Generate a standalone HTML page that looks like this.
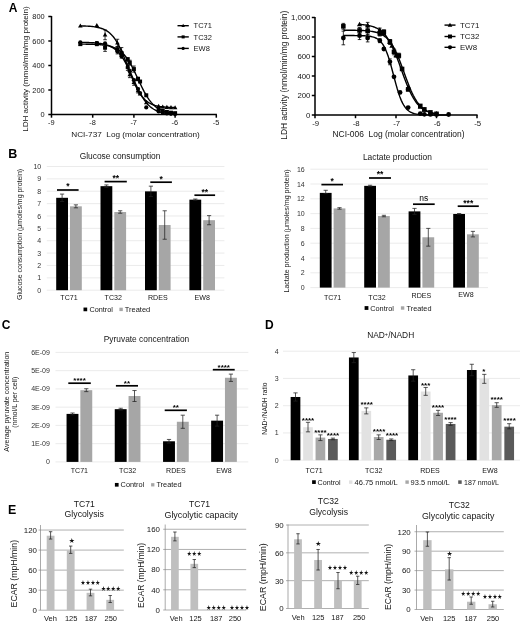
<!DOCTYPE html>
<html lang="en"><head><meta charset="utf-8"><title>Figure</title>
<style>
html,body{margin:0;padding:0;background:#fff}
svg{display:block;font-family:'Liberation Sans', 'DejaVu Sans', sans-serif;}
</style></head><body>
<svg width="520" height="624" viewBox="0 0 520 624" font-family="'Liberation Sans', 'DejaVu Sans', sans-serif">
<rect width="520" height="624" fill="#fff"/>
<text x="8.8" y="11.6" font-size="12" font-weight="bold" fill="#000">A</text>
<text x="8.3" y="158.2" font-size="12.5" font-weight="bold" fill="#000">B</text>
<text x="1.8" y="329.2" font-size="12" font-weight="bold" fill="#000">C</text>
<text x="265" y="329" font-size="12" font-weight="bold" fill="#000">D</text>
<text x="8" y="513.6" font-size="12.4" font-weight="bold" fill="#000">E</text>
<g stroke="#000" stroke-width="1.5" fill="none">
<path d="M51.5 15.9V114.5H216.9"/>
<path d="M48.3 114.5H51.5"/>
<path d="M48.3 90H51.5"/>
<path d="M48.3 65.5H51.5"/>
<path d="M48.3 41H51.5"/>
<path d="M48.3 16.5H51.5"/>
<path d="M51.5 114.5V117.7"/>
<path d="M92.7 114.5V117.7"/>
<path d="M133.9 114.5V117.7"/>
<path d="M175.1 114.5V117.7"/>
<path d="M216.3 114.5V117.7"/>
</g>
<text x="44.7" y="117.16" font-size="7.4" text-anchor="end" fill="#161616">0</text>
<text x="44.7" y="92.66" font-size="7.4" text-anchor="end" fill="#161616">200</text>
<text x="44.7" y="68.16" font-size="7.4" text-anchor="end" fill="#161616">400</text>
<text x="44.7" y="43.66" font-size="7.4" text-anchor="end" fill="#161616">600</text>
<text x="44.7" y="19.16" font-size="7.4" text-anchor="end" fill="#161616">800</text>
<text x="51.3" y="124.8" font-size="7.4" text-anchor="middle" fill="#161616">-9</text>
<text x="92.5" y="124.8" font-size="7.4" text-anchor="middle" fill="#161616">-8</text>
<text x="133.7" y="124.8" font-size="7.4" text-anchor="middle" fill="#161616">-7</text>
<text x="174.9" y="124.8" font-size="7.4" text-anchor="middle" fill="#161616">-6</text>
<text x="216.1" y="124.8" font-size="7.4" text-anchor="middle" fill="#161616">-5</text>
<text x="135.5" y="137.1" font-size="8" text-anchor="middle" fill="#161616" textLength="128.5" lengthAdjust="spacingAndGlyphs" style="white-space:pre">NCI-737  Log (molar concentration)</text>
<text x="28.4" y="69" font-size="8" text-anchor="middle" fill="#161616" transform="rotate(-90 28.4 69)" textLength="125.5" lengthAdjust="spacingAndGlyphs">LDH activity (mmol/min/mg protein)</text>
<path d="M80.34 25.87L81.52 25.9L82.71 25.94L83.89 25.98L85.08 26.03L86.26 26.08L87.45 26.15L88.63 26.22L89.82 26.31L91 26.41L92.18 26.53L93.37 26.67L94.55 26.83L95.74 27.01L96.92 27.22L98.11 27.47L99.29 27.76L100.48 28.09L101.66 28.47L102.85 28.91L104.03 29.42L105.21 30L106.4 30.66L107.58 31.42L108.77 32.29L109.95 33.28L111.14 34.39L112.32 35.65L113.51 37.06L114.69 38.64L115.88 40.39L117.06 42.31L118.24 44.42L119.43 46.72L120.61 49.18L121.8 51.82L122.98 54.6L124.17 57.51L125.35 60.52L126.54 63.61L127.72 66.72L128.9 69.84L130.09 72.93L131.27 75.94L132.46 78.85L133.64 81.63L134.83 84.27L136.01 86.73L137.2 89.03L138.38 91.14L139.56 93.06L140.75 94.81L141.93 96.39L143.12 97.8L144.3 99.06L145.49 100.17L146.67 101.16L147.86 102.03L149.04 102.79L150.23 103.45L151.41 104.03L152.59 104.54L153.78 104.98L154.96 105.36L156.15 105.69L157.33 105.98L158.52 106.23L159.7 106.44L160.89 106.62L162.07 106.78L163.26 106.92L164.44 107.04L165.62 107.14L166.81 107.23L167.99 107.3L169.18 107.37L170.36 107.42L171.55 107.47L172.73 107.51L173.92 107.55L175.1 107.58" fill="none" stroke="#000" stroke-width="1.4"/>
<path d="M80.34 23.46L82.65 27.55H78.03Z" fill="#000"/>
<path d="M96.82 22.95L99.13 27.05H94.51Z" fill="#000"/>
<path d="M105.06 32.4L107.37 36.5H102.75Z" fill="#000"/>
<path d="M105.06 29.92V39.72M103.26 29.92h3.6M103.26 39.72h3.6" stroke="#000" stroke-width="0.8" fill="none"/>
<path d="M117.42 40.52L119.73 44.62H115.11Z" fill="#000"/>
<path d="M117.42 39.26V46.61M115.62 39.26h3.6M115.62 46.61h3.6" stroke="#000" stroke-width="0.8" fill="none"/>
<path d="M121.54 48.82L123.85 52.91H119.23Z" fill="#000"/>
<path d="M121.54 47.56V54.91M119.74 47.56h3.6M119.74 54.91h3.6" stroke="#000" stroke-width="0.8" fill="none"/>
<path d="M127.72 64.31L130.03 68.41H125.41Z" fill="#000"/>
<path d="M127.72 63.05V70.4M125.92 63.05h3.6M125.92 70.4h3.6" stroke="#000" stroke-width="0.8" fill="none"/>
<path d="M129.78 72.16L132.09 76.26H127.47Z" fill="#000"/>
<path d="M129.78 71.51V77.64M127.98 71.51h3.6M127.98 77.64h3.6" stroke="#000" stroke-width="0.8" fill="none"/>
<path d="M133.9 79.8L136.21 83.9H131.59Z" fill="#000"/>
<path d="M133.9 79.16V85.28M132.1 79.16h3.6M132.1 85.28h3.6" stroke="#000" stroke-width="0.8" fill="none"/>
<path d="M138.02 88.1L140.33 92.19H135.71Z" fill="#000"/>
<path d="M138.02 88.06V92.96M136.22 88.06h3.6M136.22 92.96h3.6" stroke="#000" stroke-width="0.8" fill="none"/>
<path d="M140.08 91.43L142.39 95.53H137.77Z" fill="#000"/>
<path d="M146.26 100.25L148.57 104.35H143.95Z" fill="#000"/>
<path d="M158.62 103.83L160.93 107.93H156.31Z" fill="#000"/>
<path d="M162.74 104.45L165.05 108.54H160.43Z" fill="#000"/>
<path d="M166.86 104.81L169.17 108.91H164.55Z" fill="#000"/>
<path d="M170.98 105.03L173.29 109.13H168.67Z" fill="#000"/>
<path d="M175.1 105.16L177.41 109.26H172.79Z" fill="#000"/>
<path d="M80.34 44.12L81.52 44.13L82.71 44.14L83.89 44.15L85.08 44.17L86.26 44.18L87.45 44.2L88.63 44.22L89.82 44.25L91 44.28L92.18 44.31L93.37 44.35L94.55 44.39L95.74 44.45L96.92 44.51L98.11 44.57L99.29 44.65L100.48 44.75L101.66 44.85L102.85 44.97L104.03 45.12L105.21 45.28L106.4 45.46L107.58 45.68L108.77 45.93L109.95 46.21L111.14 46.53L112.32 46.91L113.51 47.33L114.69 47.81L115.88 48.37L117.06 48.99L118.24 49.7L119.43 50.51L120.61 51.41L121.8 52.43L122.98 53.56L124.17 54.82L125.35 56.21L126.54 57.74L127.72 59.41L128.9 61.23L130.09 63.18L131.27 65.27L132.46 67.48L133.64 69.8L134.83 72.21L136.01 74.69L137.2 77.21L138.38 79.75L139.56 82.28L140.75 84.78L141.93 87.22L143.12 89.57L144.3 91.83L145.49 93.96L146.67 95.97L147.86 97.84L149.04 99.57L150.23 101.16L151.41 102.6L152.59 103.91L153.78 105.1L154.96 106.16L156.15 107.1L157.33 107.94L158.52 108.69L159.7 109.35L160.89 109.93L162.07 110.44L163.26 110.89L164.44 111.28L165.62 111.62L166.81 111.92L167.99 112.18L169.18 112.41L170.36 112.6L171.55 112.77L172.73 112.92L173.92 113.05L175.1 113.16" fill="none" stroke="#000" stroke-width="1.4"/>
<rect x="78.34" y="42.13" width="3.99" height="3.99" fill="#000"/>
<path d="M80.34 42.9V45.35M78.54 42.9h3.6M78.54 45.35h3.6" stroke="#000" stroke-width="0.8" fill="none"/>
<rect x="94.82" y="41.89" width="3.99" height="3.99" fill="#000"/>
<path d="M96.82 42.05V45.73M95.02 42.05h3.6M95.02 45.73h3.6" stroke="#000" stroke-width="0.8" fill="none"/>
<rect x="103.06" y="45.71" width="3.99" height="3.99" fill="#000"/>
<path d="M105.06 44.03V51.38M103.26 44.03h3.6M103.26 51.38h3.6" stroke="#000" stroke-width="0.8" fill="none"/>
<rect x="115.42" y="47.21" width="3.99" height="3.99" fill="#000"/>
<path d="M117.42 46.75V51.65M115.62 46.75h3.6M115.62 51.65h3.6" stroke="#000" stroke-width="0.8" fill="none"/>
<rect x="119.55" y="51.43" width="3.99" height="3.99" fill="#000"/>
<path d="M121.54 51.58V55.26M119.74 51.58h3.6M119.74 55.26h3.6" stroke="#000" stroke-width="0.8" fill="none"/>
<rect x="125.72" y="57.42" width="3.99" height="3.99" fill="#000"/>
<path d="M127.72 57.58V61.25M125.92 57.58h3.6M125.92 61.25h3.6" stroke="#000" stroke-width="0.8" fill="none"/>
<rect x="127.79" y="60.67" width="3.99" height="3.99" fill="#000"/>
<path d="M129.78 60.21V65.11M127.98 60.21h3.6M127.98 65.11h3.6" stroke="#000" stroke-width="0.8" fill="none"/>
<rect x="131.91" y="67.1" width="3.99" height="3.99" fill="#000"/>
<path d="M133.9 66.03V72.15M132.1 66.03h3.6M132.1 72.15h3.6" stroke="#000" stroke-width="0.8" fill="none"/>
<rect x="136.02" y="76.98" width="3.99" height="3.99" fill="#000"/>
<path d="M138.02 77.14V80.81M136.22 77.14h3.6M136.22 80.81h3.6" stroke="#000" stroke-width="0.8" fill="none"/>
<rect x="138.09" y="79.54" width="3.99" height="3.99" fill="#000"/>
<rect x="144.26" y="93.29" width="3.99" height="3.99" fill="#000"/>
<rect x="156.62" y="106.75" width="3.99" height="3.99" fill="#000"/>
<rect x="160.75" y="108.7" width="3.99" height="3.99" fill="#000"/>
<rect x="164.87" y="109.94" width="3.99" height="3.99" fill="#000"/>
<rect x="168.99" y="110.7" width="3.99" height="3.99" fill="#000"/>
<rect x="173.11" y="111.17" width="3.99" height="3.99" fill="#000"/>
<path d="M80.34 42.34L81.52 42.35L82.71 42.37L83.89 42.4L85.08 42.42L86.26 42.45L87.45 42.49L88.63 42.53L89.82 42.58L91 42.63L92.18 42.7L93.37 42.77L94.55 42.85L95.74 42.95L96.92 43.06L98.11 43.19L99.29 43.34L100.48 43.51L101.66 43.71L102.85 43.94L104.03 44.2L105.21 44.5L106.4 44.85L107.58 45.24L108.77 45.69L109.95 46.2L111.14 46.79L112.32 47.45L113.51 48.2L114.69 49.05L115.88 50.01L117.06 51.08L118.24 52.27L119.43 53.6L120.61 55.06L121.8 56.67L122.98 58.43L124.17 60.34L125.35 62.38L126.54 64.57L127.72 66.88L128.9 69.29L130.09 71.8L131.27 74.37L132.46 76.99L133.64 79.62L134.83 82.24L136.01 84.81L137.2 87.32L138.38 89.75L139.56 92.06L140.75 94.25L141.93 96.3L143.12 98.21L144.3 99.98L145.49 101.59L146.67 103.07L147.86 104.4L149.04 105.6L150.23 106.68L151.41 107.63L152.59 108.49L153.78 109.24L154.96 109.91L156.15 110.5L157.33 111.01L158.52 111.47L159.7 111.86L160.89 112.21L162.07 112.51L163.26 112.77L164.44 113L165.62 113.2L166.81 113.38L167.99 113.53L169.18 113.66L170.36 113.77L171.55 113.87L172.73 113.95L173.92 114.03L175.1 114.09" fill="none" stroke="#000" stroke-width="1.4"/>
<circle cx="80.34" cy="42.34" r="2.1" fill="#000"/>
<circle cx="96.82" cy="43.05" r="2.1" fill="#000"/>
<path d="M96.82 41.83V44.28M95.02 41.83h3.6M95.02 44.28h3.6" stroke="#000" stroke-width="0.8" fill="none"/>
<circle cx="105.06" cy="43.24" r="2.1" fill="#000"/>
<circle cx="117.42" cy="51.43" r="2.1" fill="#000"/>
<path d="M117.42 48.98V53.88M115.62 48.98h3.6M115.62 53.88h3.6" stroke="#000" stroke-width="0.8" fill="none"/>
<circle cx="121.54" cy="56.31" r="2.1" fill="#000"/>
<path d="M121.54 54.47V58.15M119.74 54.47h3.6M119.74 58.15h3.6" stroke="#000" stroke-width="0.8" fill="none"/>
<circle cx="127.72" cy="66.88" r="2.1" fill="#000"/>
<path d="M127.72 65.04V68.71M125.92 65.04h3.6M125.92 68.71h3.6" stroke="#000" stroke-width="0.8" fill="none"/>
<circle cx="129.78" cy="71.14" r="2.1" fill="#000"/>
<path d="M129.78 69.3V72.98M127.98 69.3h3.6M127.98 72.98h3.6" stroke="#000" stroke-width="0.8" fill="none"/>
<circle cx="133.9" cy="80.19" r="2.1" fill="#000"/>
<circle cx="138.02" cy="89.02" r="2.1" fill="#000"/>
<circle cx="140.08" cy="93.03" r="2.1" fill="#000"/>
<circle cx="146.26" cy="107.47" r="2.1" fill="#000"/>
<circle cx="158.62" cy="111.5" r="2.1" fill="#000"/>
<circle cx="162.74" cy="112.66" r="2.1" fill="#000"/>
<circle cx="166.86" cy="113.38" r="2.1" fill="#000"/>
<circle cx="170.98" cy="113.82" r="2.1" fill="#000"/>
<circle cx="175.1" cy="114.09" r="2.1" fill="#000"/>
<line x1="177.5" y1="25.7" x2="188.8" y2="25.7" stroke="#000" stroke-width="1.4"/>
<path d="M183.15 23.86L184.91 26.98H181.39Z" fill="#000"/>
<text x="193.6" y="28.4" font-size="7.5" fill="#161616">TC71</text>
<line x1="177.5" y1="36.9" x2="188.8" y2="36.9" stroke="#000" stroke-width="1.4"/>
<rect x="181.63" y="35.38" width="3.04" height="3.04" fill="#000"/>
<text x="193.6" y="39.6" font-size="7.5" fill="#161616">TC32</text>
<line x1="177.5" y1="48.4" x2="188.8" y2="48.4" stroke="#000" stroke-width="1.4"/>
<circle cx="183.15" cy="48.4" r="1.6" fill="#000"/>
<text x="193.6" y="51.1" font-size="7.5" fill="#161616">EW8</text>
<g stroke="#000" stroke-width="1.5" fill="none">
<path d="M315 16.9V115H477.6"/>
<path d="M311.8 115H315"/>
<path d="M311.8 95.5H315"/>
<path d="M311.8 76H315"/>
<path d="M311.8 56.5H315"/>
<path d="M311.8 37H315"/>
<path d="M311.8 17.5H315"/>
<path d="M315 115V118.2"/>
<path d="M355.5 115V118.2"/>
<path d="M396 115V118.2"/>
<path d="M436.5 115V118.2"/>
<path d="M477 115V118.2"/>
</g>
<text x="310.4" y="117.81" font-size="7.8" text-anchor="end" fill="#161616">0</text>
<text x="310.4" y="98.31" font-size="7.8" text-anchor="end" fill="#161616">200</text>
<text x="310.4" y="78.81" font-size="7.8" text-anchor="end" fill="#161616">400</text>
<text x="310.4" y="59.31" font-size="7.8" text-anchor="end" fill="#161616">600</text>
<text x="310.4" y="39.81" font-size="7.8" text-anchor="end" fill="#161616">800</text>
<text x="310.4" y="20.31" font-size="7.8" text-anchor="end" fill="#161616">1,000</text>
<text x="315.7" y="126.3" font-size="7.8" text-anchor="middle" fill="#161616">-9</text>
<text x="356.2" y="126.3" font-size="7.8" text-anchor="middle" fill="#161616">-8</text>
<text x="396.7" y="126.3" font-size="7.8" text-anchor="middle" fill="#161616">-7</text>
<text x="437.2" y="126.3" font-size="7.8" text-anchor="middle" fill="#161616">-6</text>
<text x="477.7" y="126.3" font-size="7.8" text-anchor="middle" fill="#161616">-5</text>
<text x="398.5" y="137" font-size="8.4" text-anchor="middle" fill="#161616" textLength="132" lengthAdjust="spacingAndGlyphs" style="white-space:pre">NCI-006  Log (molar concentration)</text>
<text x="286.92" y="75.2" font-size="8.4" text-anchor="middle" fill="#161616" transform="rotate(-90 286.92 75.2)" textLength="129" lengthAdjust="spacingAndGlyphs">LDH activity (nmol/min/mg protein)</text>
<path d="M359.55 24.39L360.51 24.46L361.47 24.54L362.44 24.62L363.4 24.72L364.36 24.83L365.32 24.95L366.28 25.09L367.25 25.24L368.21 25.41L369.17 25.61L370.13 25.82L371.09 26.06L372.05 26.33L373.02 26.63L373.98 26.97L374.94 27.35L375.9 27.77L376.86 28.23L377.83 28.75L378.79 29.33L379.75 29.97L380.71 30.67L381.67 31.46L382.63 32.32L383.6 33.27L384.56 34.31L385.52 35.45L386.48 36.69L387.44 38.05L388.41 39.51L389.37 41.1L390.33 42.8L391.29 44.63L392.25 46.58L393.22 48.64L394.18 50.82L395.14 53.11L396.1 55.49L397.06 57.96L398.02 60.51L398.99 63.11L399.95 65.76L400.91 68.43L401.87 71.11L402.83 73.78L403.8 76.41L404.76 79L405.72 81.53L406.68 83.98L407.64 86.34L408.61 88.6L409.57 90.75L410.53 92.78L411.49 94.7L412.45 96.49L413.41 98.17L414.38 99.72L415.34 101.16L416.3 102.48L417.26 103.7L418.22 104.81L419.19 105.83L420.15 106.75L421.11 107.6L422.07 108.36L423.03 109.05L424 109.67L424.96 110.23L425.92 110.73L426.88 111.19L427.84 111.59L428.8 111.96L429.77 112.29L430.73 112.58L431.69 112.84L432.65 113.08L433.61 113.29L434.58 113.47L435.54 113.64L436.5 113.79" fill="none" stroke="#000" stroke-width="1.4"/>
<path d="M359.55 21.63L362.19 26.31H356.91Z" fill="#000"/>
<path d="M367.65 22.55L370.29 27.23H365.01Z" fill="#000"/>
<path d="M367.65 22.39V28.24M365.85 22.39h3.6M365.85 28.24h3.6" stroke="#000" stroke-width="0.8" fill="none"/>
<path d="M379.8 27.24L382.44 31.92H377.16Z" fill="#000"/>
<path d="M379.8 28.05V31.95M378 28.05h3.6M378 31.95h3.6" stroke="#000" stroke-width="0.8" fill="none"/>
<path d="M383.85 30.77L386.49 35.45H381.21Z" fill="#000"/>
<path d="M389.92 39.31L392.56 43.99H387.28Z" fill="#000"/>
<path d="M389.92 39.63V44.51M388.12 39.63h3.6M388.12 44.51h3.6" stroke="#000" stroke-width="0.8" fill="none"/>
<path d="M391.95 43.19L394.59 47.87H389.31Z" fill="#000"/>
<path d="M396 52.48L398.64 57.16H393.36Z" fill="#000"/>
<path d="M396 53.29V57.19M394.2 53.29h3.6M394.2 57.19h3.6" stroke="#000" stroke-width="0.8" fill="none"/>
<path d="M408.15 84.78L410.79 89.46H405.51Z" fill="#000"/>
<path d="M420.3 104.13L422.94 108.81H417.66Z" fill="#000"/>
<path d="M424.35 107.12L426.99 111.8H421.71Z" fill="#000"/>
<path d="M436.5 111.03L439.14 115.71H433.86Z" fill="#000"/>
<path d="M343.35 30.21L344.51 30.21L345.68 30.22L346.84 30.22L348.01 30.23L349.17 30.24L350.34 30.25L351.5 30.26L352.66 30.28L353.83 30.29L354.99 30.31L356.16 30.34L357.32 30.36L358.49 30.39L359.65 30.43L360.82 30.47L361.98 30.52L363.14 30.57L364.31 30.64L365.47 30.71L366.64 30.8L367.8 30.91L368.97 31.02L370.13 31.16L371.29 31.32L372.46 31.51L373.62 31.72L374.79 31.97L375.95 32.26L377.12 32.59L378.28 32.98L379.45 33.42L380.61 33.93L381.77 34.52L382.94 35.19L384.1 35.96L385.27 36.84L386.43 37.83L387.6 38.96L388.76 40.23L389.92 41.66L391.09 43.26L392.25 45.04L393.42 47L394.58 49.15L395.75 51.48L396.91 54L398.08 56.7L399.24 59.55L400.4 62.53L401.57 65.63L402.73 68.81L403.9 72.03L405.06 75.25L406.23 78.45L407.39 81.57L408.55 84.6L409.72 87.5L410.88 90.26L412.05 92.84L413.21 95.24L414.38 97.45L415.54 99.48L416.71 101.32L417.87 102.97L419.03 104.46L420.2 105.79L421.36 106.97L422.53 108.01L423.69 108.92L424.86 109.73L426.02 110.43L427.19 111.05L428.35 111.58L429.51 112.05L430.68 112.45L431.84 112.8L433.01 113.11L434.17 113.37L435.34 113.6L436.5 113.79" fill="none" stroke="#000" stroke-width="1.4"/>
<rect x="341.07" y="24.03" width="4.56" height="4.56" fill="#000"/>
<path d="M343.35 23.38V29.23M341.55 23.38h3.6M341.55 29.23h3.6" stroke="#000" stroke-width="0.8" fill="none"/>
<rect x="357.27" y="28.14" width="4.56" height="4.56" fill="#000"/>
<path d="M359.55 27.5V33.35M357.75 27.5h3.6M357.75 33.35h3.6" stroke="#000" stroke-width="0.8" fill="none"/>
<rect x="365.37" y="28.61" width="4.56" height="4.56" fill="#000"/>
<path d="M367.65 26.99V34.79M365.85 26.99h3.6M365.85 34.79h3.6" stroke="#000" stroke-width="0.8" fill="none"/>
<rect x="377.52" y="31.29" width="4.56" height="4.56" fill="#000"/>
<path d="M379.8 31.13V36.01M378 31.13h3.6M378 36.01h3.6" stroke="#000" stroke-width="0.8" fill="none"/>
<rect x="381.57" y="29.6" width="4.56" height="4.56" fill="#000"/>
<path d="M383.85 29.93V33.83M382.05 29.93h3.6M382.05 33.83h3.6" stroke="#000" stroke-width="0.8" fill="none"/>
<rect x="387.64" y="39.38" width="4.56" height="4.56" fill="#000"/>
<path d="M389.92 39.71V43.61M388.12 39.71h3.6M388.12 43.61h3.6" stroke="#000" stroke-width="0.8" fill="none"/>
<rect x="391.7" y="49.62" width="4.56" height="4.56" fill="#000"/>
<path d="M393.98 48.98V54.83M392.18 48.98h3.6M392.18 54.83h3.6" stroke="#000" stroke-width="0.8" fill="none"/>
<rect x="396.56" y="53.33" width="4.56" height="4.56" fill="#000"/>
<path d="M398.84 53.18V58.05M397.04 53.18h3.6M397.04 58.05h3.6" stroke="#000" stroke-width="0.8" fill="none"/>
<rect x="399.8" y="66.67" width="4.56" height="4.56" fill="#000"/>
<path d="M402.08 67.49V70.42M400.28 67.49h3.6M400.28 70.42h3.6" stroke="#000" stroke-width="0.8" fill="none"/>
<rect x="405.87" y="87.13" width="4.56" height="4.56" fill="#000"/>
<path d="M408.15 87.95V90.88M406.35 87.95h3.6M406.35 90.88h3.6" stroke="#000" stroke-width="0.8" fill="none"/>
<rect x="418.02" y="103.62" width="4.56" height="4.56" fill="#000"/>
<rect x="422.07" y="107.11" width="4.56" height="4.56" fill="#000"/>
<rect x="428.14" y="110.09" width="4.56" height="4.56" fill="#000"/>
<rect x="434.22" y="111.51" width="4.56" height="4.56" fill="#000"/>
<path d="M343.35 35.54L344.67 35.54L345.98 35.55L347.3 35.55L348.62 35.55L349.93 35.55L351.25 35.56L352.56 35.57L353.88 35.57L355.2 35.59L356.51 35.6L357.83 35.62L359.14 35.64L360.46 35.67L361.78 35.71L363.09 35.76L364.41 35.82L365.73 35.9L367.04 36.01L368.36 36.14L369.67 36.31L370.99 36.54L372.31 36.82L373.62 37.18L374.94 37.65L376.26 38.24L377.57 38.99L378.89 39.93L380.2 41.12L381.52 42.59L382.84 44.4L384.15 46.62L385.47 49.27L386.79 52.4L388.1 56.03L389.42 60.13L390.73 64.65L392.05 69.48L393.37 74.49L394.68 79.53L396 84.43L397.32 89.06L398.63 93.29L399.95 97.07L401.26 100.35L402.58 103.15L403.9 105.5L405.21 107.43L406.53 109L407.85 110.27L409.16 111.28L410.48 112.09L411.79 112.72L413.11 113.22L414.43 113.61L415.74 113.92L417.06 114.16L418.38 114.35L419.69 114.49L421.01 114.61L422.32 114.69L423.64 114.76L424.96 114.82L426.27 114.86L427.59 114.89L428.91 114.91L430.22 114.93L431.54 114.95L432.86 114.96L434.17 114.97L435.49 114.98L436.8 114.98L438.12 114.99L439.44 114.99L440.75 114.99L442.07 114.99L443.38 114.99L444.7 115L446.02 115L447.33 115L448.65 115" fill="none" stroke="#000" stroke-width="1.4"/>
<circle cx="343.35" cy="37.98" r="2.4" fill="#000"/>
<path d="M343.35 31.15V44.8M341.55 31.15h3.6M341.55 44.8h3.6" stroke="#000" stroke-width="0.8" fill="none"/>
<circle cx="359.55" cy="35.65" r="2.4" fill="#000"/>
<path d="M359.55 31.75V39.55M357.75 31.75h3.6M357.75 39.55h3.6" stroke="#000" stroke-width="0.8" fill="none"/>
<circle cx="367.65" cy="38.01" r="2.4" fill="#000"/>
<path d="M367.65 34.11V41.91M365.85 34.11h3.6M365.85 41.91h3.6" stroke="#000" stroke-width="0.8" fill="none"/>
<circle cx="379.8" cy="40.72" r="2.4" fill="#000"/>
<path d="M379.8 38.77V42.67M378 38.77h3.6M378 42.67h3.6" stroke="#000" stroke-width="0.8" fill="none"/>
<circle cx="383.85" cy="48.99" r="2.4" fill="#000"/>
<circle cx="389.92" cy="61.82" r="2.4" fill="#000"/>
<path d="M389.92 58.9V64.75M388.12 58.9h3.6M388.12 64.75h3.6" stroke="#000" stroke-width="0.8" fill="none"/>
<circle cx="393.98" cy="76.82" r="2.4" fill="#000"/>
<circle cx="400.05" cy="92.46" r="2.4" fill="#000"/>
<circle cx="408.15" cy="107.6" r="2.4" fill="#000"/>
<circle cx="420.3" cy="113.57" r="2.4" fill="#000"/>
<circle cx="424.35" cy="114.31" r="2.4" fill="#000"/>
<circle cx="430.42" cy="114.45" r="2.4" fill="#000"/>
<circle cx="436.5" cy="114.49" r="2.4" fill="#000"/>
<circle cx="448.65" cy="114.51" r="2.4" fill="#000"/>
<line x1="444.5" y1="25.1" x2="455.5" y2="25.1" stroke="#000" stroke-width="1.4"/>
<path d="M450 22.69L452.31 26.78H447.69Z" fill="#000"/>
<text x="460" y="27.94" font-size="7.9" fill="#161616">TC71</text>
<line x1="444.5" y1="36.5" x2="455.5" y2="36.5" stroke="#000" stroke-width="1.4"/>
<rect x="448" y="34.51" width="3.99" height="3.99" fill="#000"/>
<text x="460" y="39.34" font-size="7.9" fill="#161616">TC32</text>
<line x1="444.5" y1="47.3" x2="455.5" y2="47.3" stroke="#000" stroke-width="1.4"/>
<circle cx="450" cy="47.3" r="2.1" fill="#000"/>
<text x="460" y="50.14" font-size="7.9" fill="#161616">EW8</text>
<line x1="46.8" y1="290.2" x2="224.4" y2="290.2" stroke="#e2e2e2" stroke-width="0.7"/>
<text x="41.2" y="292.72" font-size="7" text-anchor="end" fill="#333">0</text>
<line x1="46.8" y1="277.83" x2="224.4" y2="277.83" stroke="#e2e2e2" stroke-width="0.7"/>
<text x="41.2" y="280.35" font-size="7" text-anchor="end" fill="#333">1</text>
<line x1="46.8" y1="265.46" x2="224.4" y2="265.46" stroke="#e2e2e2" stroke-width="0.7"/>
<text x="41.2" y="267.98" font-size="7" text-anchor="end" fill="#333">2</text>
<line x1="46.8" y1="253.09" x2="224.4" y2="253.09" stroke="#e2e2e2" stroke-width="0.7"/>
<text x="41.2" y="255.61" font-size="7" text-anchor="end" fill="#333">3</text>
<line x1="46.8" y1="240.72" x2="224.4" y2="240.72" stroke="#e2e2e2" stroke-width="0.7"/>
<text x="41.2" y="243.24" font-size="7" text-anchor="end" fill="#333">4</text>
<line x1="46.8" y1="228.35" x2="224.4" y2="228.35" stroke="#e2e2e2" stroke-width="0.7"/>
<text x="41.2" y="230.87" font-size="7" text-anchor="end" fill="#333">5</text>
<line x1="46.8" y1="215.98" x2="224.4" y2="215.98" stroke="#e2e2e2" stroke-width="0.7"/>
<text x="41.2" y="218.5" font-size="7" text-anchor="end" fill="#333">6</text>
<line x1="46.8" y1="203.61" x2="224.4" y2="203.61" stroke="#e2e2e2" stroke-width="0.7"/>
<text x="41.2" y="206.13" font-size="7" text-anchor="end" fill="#333">7</text>
<line x1="46.8" y1="191.24" x2="224.4" y2="191.24" stroke="#e2e2e2" stroke-width="0.7"/>
<text x="41.2" y="193.76" font-size="7" text-anchor="end" fill="#333">8</text>
<line x1="46.8" y1="178.87" x2="224.4" y2="178.87" stroke="#e2e2e2" stroke-width="0.7"/>
<text x="41.2" y="181.39" font-size="7" text-anchor="end" fill="#333">9</text>
<line x1="46.8" y1="166.5" x2="224.4" y2="166.5" stroke="#e2e2e2" stroke-width="0.7"/>
<text x="41.2" y="169.02" font-size="7" text-anchor="end" fill="#333">10</text>
<rect x="56.2" y="197.8" width="11.8" height="92.4" fill="#000"/>
<path d="M62.1 194.09V201.51M60 194.09h4.2M60 201.51h4.2" stroke="#222" stroke-width="0.75" fill="none"/>
<rect x="70" y="206.33" width="11.8" height="83.87" fill="#a6a6a6"/>
<path d="M75.9 204.85V207.82M73.8 204.85h4.2M73.8 207.82h4.2" stroke="#222" stroke-width="0.75" fill="none"/>
<text x="69" y="299.54" font-size="7.1" text-anchor="middle" fill="#161616">TC71</text>
<rect x="100.5" y="186.17" width="11.8" height="104.03" fill="#000"/>
<path d="M106.4 184.93V187.41M104.3 184.93h4.2M104.3 187.41h4.2" stroke="#222" stroke-width="0.75" fill="none"/>
<rect x="114.3" y="212.02" width="11.8" height="78.18" fill="#a6a6a6"/>
<path d="M120.2 210.78V213.26M118.1 210.78h4.2M118.1 213.26h4.2" stroke="#222" stroke-width="0.75" fill="none"/>
<text x="113.3" y="299.54" font-size="7.1" text-anchor="middle" fill="#161616">TC32</text>
<rect x="145" y="191.36" width="11.8" height="98.84" fill="#000"/>
<path d="M150.9 186.17V196.56M148.8 186.17h4.2M148.8 196.56h4.2" stroke="#222" stroke-width="0.75" fill="none"/>
<rect x="158.8" y="225.01" width="11.8" height="65.19" fill="#a6a6a6"/>
<path d="M164.7 210.78V239.24M162.6 210.78h4.2M162.6 239.24h4.2" stroke="#222" stroke-width="0.75" fill="none"/>
<text x="157.8" y="299.54" font-size="7.1" text-anchor="middle" fill="#161616">RDES</text>
<rect x="189.4" y="199.65" width="11.8" height="90.55" fill="#000"/>
<path d="M195.3 199.03V200.27M193.2 199.03h4.2M193.2 200.27h4.2" stroke="#222" stroke-width="0.75" fill="none"/>
<rect x="203.2" y="220.19" width="11.8" height="70.01" fill="#a6a6a6"/>
<path d="M209.1 215.61V224.76M207 215.61h4.2M207 224.76h4.2" stroke="#222" stroke-width="0.75" fill="none"/>
<text x="202.2" y="299.54" font-size="7.1" text-anchor="middle" fill="#161616">EW8</text>
<text x="120" y="159.31" font-size="8.4" text-anchor="middle" fill="#161616" textLength="80.7" lengthAdjust="spacingAndGlyphs">Glucose consumption</text>
<line x1="57" y1="190" x2="78.6" y2="190" stroke="#000" stroke-width="1.7"/>
<text x="67.8" y="189.3" font-size="8.5" text-anchor="middle" font-weight="bold" fill="#000">*</text>
<line x1="104.6" y1="181.6" x2="126.8" y2="181.6" stroke="#000" stroke-width="1.7"/>
<text x="115.7" y="180.9" font-size="8.5" text-anchor="middle" font-weight="bold" fill="#000">**</text>
<line x1="150.3" y1="182.2" x2="171.9" y2="182.2" stroke="#000" stroke-width="1.7"/>
<text x="161.1" y="181.5" font-size="8.5" text-anchor="middle" font-weight="bold" fill="#000">*</text>
<line x1="194.4" y1="195.2" x2="215.1" y2="195.2" stroke="#000" stroke-width="1.7"/>
<text x="204.75" y="194.5" font-size="8.5" text-anchor="middle" font-weight="bold" fill="#000">**</text>
<text x="22.4" y="234.4" font-size="7" text-anchor="middle" fill="#161616" transform="rotate(-90 22.4 234.4)" textLength="131" lengthAdjust="spacingAndGlyphs">Glucose consumption (μmoles/mg protein)</text>
<rect x="83.5" y="307.55" width="3.7" height="3.7" fill="#000"/>
<text x="89.4" y="311.99" font-size="7.2" fill="#161616" textLength="23.5" lengthAdjust="spacingAndGlyphs">Control</text>
<rect x="119.4" y="307.7" width="3.4" height="3.4" fill="#a6a6a6"/>
<text x="124.8" y="311.99" font-size="7.2" fill="#161616" textLength="25.4" lengthAdjust="spacingAndGlyphs">Treated</text>
<line x1="310.4" y1="287.6" x2="488" y2="287.6" stroke="#e2e2e2" stroke-width="0.7"/>
<text x="304.7" y="290.12" font-size="7" text-anchor="end" fill="#333">0</text>
<line x1="310.4" y1="272.8" x2="488" y2="272.8" stroke="#e2e2e2" stroke-width="0.7"/>
<text x="304.7" y="275.32" font-size="7" text-anchor="end" fill="#333">2</text>
<line x1="310.4" y1="258" x2="488" y2="258" stroke="#e2e2e2" stroke-width="0.7"/>
<text x="304.7" y="260.52" font-size="7" text-anchor="end" fill="#333">4</text>
<line x1="310.4" y1="243.2" x2="488" y2="243.2" stroke="#e2e2e2" stroke-width="0.7"/>
<text x="304.7" y="245.72" font-size="7" text-anchor="end" fill="#333">6</text>
<line x1="310.4" y1="228.4" x2="488" y2="228.4" stroke="#e2e2e2" stroke-width="0.7"/>
<text x="304.7" y="230.92" font-size="7" text-anchor="end" fill="#333">8</text>
<line x1="310.4" y1="213.6" x2="488" y2="213.6" stroke="#e2e2e2" stroke-width="0.7"/>
<text x="304.7" y="216.12" font-size="7" text-anchor="end" fill="#333">10</text>
<line x1="310.4" y1="198.8" x2="488" y2="198.8" stroke="#e2e2e2" stroke-width="0.7"/>
<text x="304.7" y="201.32" font-size="7" text-anchor="end" fill="#333">12</text>
<line x1="310.4" y1="184" x2="488" y2="184" stroke="#e2e2e2" stroke-width="0.7"/>
<text x="304.7" y="186.52" font-size="7" text-anchor="end" fill="#333">14</text>
<line x1="310.4" y1="169.2" x2="488" y2="169.2" stroke="#e2e2e2" stroke-width="0.7"/>
<text x="304.7" y="171.72" font-size="7" text-anchor="end" fill="#333">16</text>
<rect x="319.8" y="192.88" width="11.8" height="94.72" fill="#000"/>
<path d="M325.7 190.29V193.62M323.6 190.29h4.2M323.6 193.62h4.2" stroke="#222" stroke-width="0.75" fill="none"/>
<rect x="333.6" y="208.42" width="11.8" height="79.18" fill="#a6a6a6"/>
<path d="M339.5 207.68V209.16M337.4 207.68h4.2M337.4 209.16h4.2" stroke="#222" stroke-width="0.75" fill="none"/>
<text x="332.6" y="299.84" font-size="7.1" text-anchor="middle" fill="#161616">TC71</text>
<rect x="364.2" y="185.85" width="11.8" height="101.75" fill="#000"/>
<path d="M370.1 185.26V186.44M368 185.26h4.2M368 186.44h4.2" stroke="#222" stroke-width="0.75" fill="none"/>
<rect x="378" y="216.04" width="11.8" height="71.56" fill="#a6a6a6"/>
<path d="M383.9 215.3V216.78M381.8 215.3h4.2M381.8 216.78h4.2" stroke="#222" stroke-width="0.75" fill="none"/>
<text x="377" y="299.84" font-size="7.1" text-anchor="middle" fill="#161616">TC32</text>
<rect x="408.6" y="211.38" width="11.8" height="76.22" fill="#000"/>
<path d="M414.5 208.42V214.34M412.4 208.42h4.2M412.4 214.34h4.2" stroke="#222" stroke-width="0.75" fill="none"/>
<rect x="422.4" y="237.28" width="11.8" height="50.32" fill="#a6a6a6"/>
<path d="M428.3 228.4V246.16M426.2 228.4h4.2M426.2 246.16h4.2" stroke="#222" stroke-width="0.75" fill="none"/>
<text x="421.4" y="297.94" font-size="7.1" text-anchor="middle" fill="#161616">RDES</text>
<rect x="453.2" y="213.97" width="11.8" height="73.63" fill="#000"/>
<path d="M459.1 213.53V214.41M457 213.53h4.2M457 214.41h4.2" stroke="#222" stroke-width="0.75" fill="none"/>
<rect x="467" y="234.32" width="11.8" height="53.28" fill="#a6a6a6"/>
<path d="M472.9 231.36V236.91M470.8 231.36h4.2M470.8 236.91h4.2" stroke="#222" stroke-width="0.75" fill="none"/>
<text x="466" y="296.74" font-size="7.1" text-anchor="middle" fill="#161616">EW8</text>
<text x="397.4" y="160.31" font-size="8.4" text-anchor="middle" fill="#161616" textLength="68.9" lengthAdjust="spacingAndGlyphs">Lactate production</text>
<line x1="321.4" y1="184.6" x2="343" y2="184.6" stroke="#000" stroke-width="1.7"/>
<text x="332.2" y="183.9" font-size="8.5" text-anchor="middle" font-weight="bold" fill="#000">*</text>
<line x1="369" y1="178" x2="391" y2="178" stroke="#000" stroke-width="1.7"/>
<text x="380" y="177.3" font-size="8.5" text-anchor="middle" font-weight="bold" fill="#000">**</text>
<line x1="413" y1="204.2" x2="434.7" y2="204.2" stroke="#000" stroke-width="1.7"/>
<text x="423.85" y="201.3" font-size="8.5" text-anchor="middle" fill="#000">ns</text>
<line x1="457.7" y1="206.2" x2="478.8" y2="206.2" stroke="#000" stroke-width="1.7"/>
<text x="468.25" y="205.5" font-size="8.5" text-anchor="middle" font-weight="bold" fill="#000">***</text>
<text x="289.4" y="231" font-size="7" text-anchor="middle" fill="#161616" transform="rotate(-90 289.4 231)" textLength="123" lengthAdjust="spacingAndGlyphs">Lactate production (μmoles/mg protein)</text>
<rect x="364.6" y="306.1" width="3.8" height="3.8" fill="#000"/>
<text x="370.2" y="310.59" font-size="7.2" fill="#161616" textLength="23.7" lengthAdjust="spacingAndGlyphs">Control</text>
<rect x="400.9" y="306.3" width="3.4" height="3.4" fill="#a6a6a6"/>
<text x="406.6" y="310.59" font-size="7.2" fill="#161616" textLength="24.9" lengthAdjust="spacingAndGlyphs">Treated</text>
<line x1="55.5" y1="461.9" x2="248.3" y2="461.9" stroke="#e2e2e2" stroke-width="0.7"/>
<text x="49.9" y="464.42" font-size="7" text-anchor="end" fill="#333">0</text>
<line x1="55.5" y1="443.65" x2="248.3" y2="443.65" stroke="#e2e2e2" stroke-width="0.7"/>
<text x="49.9" y="446.17" font-size="7" text-anchor="end" fill="#333">1E-09</text>
<line x1="55.5" y1="425.4" x2="248.3" y2="425.4" stroke="#e2e2e2" stroke-width="0.7"/>
<text x="49.9" y="427.92" font-size="7" text-anchor="end" fill="#333">2E-09</text>
<line x1="55.5" y1="407.15" x2="248.3" y2="407.15" stroke="#e2e2e2" stroke-width="0.7"/>
<text x="49.9" y="409.67" font-size="7" text-anchor="end" fill="#333">3E-09</text>
<line x1="55.5" y1="388.9" x2="248.3" y2="388.9" stroke="#e2e2e2" stroke-width="0.7"/>
<text x="49.9" y="391.42" font-size="7" text-anchor="end" fill="#333">4E-09</text>
<line x1="55.5" y1="370.65" x2="248.3" y2="370.65" stroke="#e2e2e2" stroke-width="0.7"/>
<text x="49.9" y="373.17" font-size="7" text-anchor="end" fill="#333">5E-09</text>
<line x1="55.5" y1="352.4" x2="248.3" y2="352.4" stroke="#e2e2e2" stroke-width="0.7"/>
<text x="49.9" y="354.92" font-size="7" text-anchor="end" fill="#333">6E-09</text>
<rect x="66.55" y="413.9" width="11.9" height="48" fill="#000"/>
<path d="M72.5 412.99V414.81M70.4 412.99h4.2M70.4 414.81h4.2" stroke="#222" stroke-width="0.75" fill="none"/>
<rect x="80.35" y="390.18" width="11.9" height="71.72" fill="#a6a6a6"/>
<path d="M86.3 388.72V391.64M84.2 388.72h4.2M84.2 391.64h4.2" stroke="#222" stroke-width="0.75" fill="none"/>
<text x="79.4" y="473.14" font-size="7.1" text-anchor="middle" fill="#161616">TC71</text>
<rect x="114.75" y="409.16" width="11.9" height="52.74" fill="#000"/>
<path d="M120.7 408.25V410.07M118.6 408.25h4.2M118.6 410.07h4.2" stroke="#222" stroke-width="0.75" fill="none"/>
<rect x="128.55" y="396.02" width="11.9" height="65.88" fill="#a6a6a6"/>
<path d="M134.5 390.54V401.49M132.4 390.54h4.2M132.4 401.49h4.2" stroke="#222" stroke-width="0.75" fill="none"/>
<text x="127.6" y="473.14" font-size="7.1" text-anchor="middle" fill="#161616">TC32</text>
<rect x="163.05" y="441.28" width="11.9" height="20.62" fill="#000"/>
<path d="M169 439.45V443.1M166.9 439.45h4.2M166.9 443.1h4.2" stroke="#222" stroke-width="0.75" fill="none"/>
<rect x="176.85" y="421.75" width="11.9" height="40.15" fill="#a6a6a6"/>
<path d="M182.8 415.18V428.32M180.7 415.18h4.2M180.7 428.32h4.2" stroke="#222" stroke-width="0.75" fill="none"/>
<text x="175.9" y="473.14" font-size="7.1" text-anchor="middle" fill="#161616">RDES</text>
<rect x="211.15" y="420.65" width="11.9" height="41.24" fill="#000"/>
<path d="M217.1 415.18V426.13M215 415.18h4.2M215 426.13h4.2" stroke="#222" stroke-width="0.75" fill="none"/>
<rect x="224.95" y="377.77" width="11.9" height="84.13" fill="#a6a6a6"/>
<path d="M230.9 374.12V381.42M228.8 374.12h4.2M228.8 381.42h4.2" stroke="#222" stroke-width="0.75" fill="none"/>
<text x="224" y="473.14" font-size="7.1" text-anchor="middle" fill="#161616">EW8</text>
<text x="146.5" y="341.81" font-size="8.4" text-anchor="middle" fill="#161616" textLength="85.4" lengthAdjust="spacingAndGlyphs">Pyruvate concentration</text>
<line x1="68.3" y1="383.2" x2="90.8" y2="383.2" stroke="#000" stroke-width="1.7"/>
<text x="79.55" y="383" font-size="8" text-anchor="middle" font-weight="bold" fill="#000">****</text>
<line x1="115.9" y1="385.8" x2="138" y2="385.8" stroke="#000" stroke-width="1.7"/>
<text x="126.95" y="385.5" font-size="8" text-anchor="middle" font-weight="bold" fill="#000">**</text>
<line x1="164.7" y1="410.3" x2="186.9" y2="410.3" stroke="#000" stroke-width="1.7"/>
<text x="175.8" y="409.6" font-size="8" text-anchor="middle" font-weight="bold" fill="#000">**</text>
<line x1="212.8" y1="369.7" x2="234.7" y2="369.7" stroke="#000" stroke-width="1.7"/>
<text x="223.75" y="369.5" font-size="8" text-anchor="middle" font-weight="bold" fill="#000">****</text>
<text x="9.2" y="401.7" font-size="7" text-anchor="middle" fill="#161616" transform="rotate(-90 9.2 401.7)" textLength="100" lengthAdjust="spacingAndGlyphs">Average pyruvate concentration</text>
<text x="17.3" y="402.2" font-size="7" text-anchor="middle" fill="#161616" transform="rotate(-90 17.3 402.2)" textLength="51" lengthAdjust="spacingAndGlyphs">(nmol/L per cell)</text>
<rect x="114.9" y="482.95" width="3.7" height="3.7" fill="#000"/>
<text x="120.6" y="487.39" font-size="7.2" fill="#161616" textLength="23.7" lengthAdjust="spacingAndGlyphs">Control</text>
<rect x="151.1" y="483.15" width="3.3" height="3.3" fill="#a6a6a6"/>
<text x="156.4" y="487.39" font-size="7.2" fill="#161616" textLength="25.1" lengthAdjust="spacingAndGlyphs">Treated</text>
<line x1="283" y1="460.2" x2="520" y2="460.2" stroke="#e2e2e2" stroke-width="0.7"/>
<text x="278.7" y="462.72" font-size="7" text-anchor="end" fill="#333">0</text>
<line x1="283" y1="432.95" x2="520" y2="432.95" stroke="#e2e2e2" stroke-width="0.7"/>
<text x="278.7" y="435.47" font-size="7" text-anchor="end" fill="#333">1</text>
<line x1="283" y1="405.7" x2="520" y2="405.7" stroke="#e2e2e2" stroke-width="0.7"/>
<text x="278.7" y="408.22" font-size="7" text-anchor="end" fill="#333">2</text>
<line x1="283" y1="378.45" x2="520" y2="378.45" stroke="#e2e2e2" stroke-width="0.7"/>
<text x="278.7" y="380.97" font-size="7" text-anchor="end" fill="#333">3</text>
<line x1="283" y1="351.2" x2="520" y2="351.2" stroke="#e2e2e2" stroke-width="0.7"/>
<text x="278.7" y="353.72" font-size="7" text-anchor="end" fill="#333">4</text>
<rect x="290.65" y="396.98" width="9.7" height="63.22" fill="#000"/>
<path d="M295.5 392.89V401.07M293.4 392.89h4.2M293.4 401.07h4.2" stroke="#222" stroke-width="0.75" fill="none"/>
<rect x="303.15" y="427.23" width="9.7" height="32.97" fill="#e2e2e2"/>
<path d="M308 422.32V431.86M305.9 422.32h4.2M305.9 431.86h4.2" stroke="#222" stroke-width="0.75" fill="none"/>
<rect x="315.55" y="437.58" width="9.7" height="22.62" fill="#a8a8a8"/>
<path d="M320.4 434.86V440.58M318.3 434.86h4.2M318.3 440.58h4.2" stroke="#222" stroke-width="0.75" fill="none"/>
<rect x="328.05" y="438.94" width="9.7" height="21.25" fill="#5a5a5a"/>
<path d="M332.9 438.13V439.76M330.8 438.13h4.2M330.8 439.76h4.2" stroke="#222" stroke-width="0.75" fill="none"/>
<text x="314.1" y="472.64" font-size="7.1" text-anchor="middle" fill="#161616">TC71</text>
<rect x="348.95" y="357.47" width="9.7" height="102.73" fill="#000"/>
<path d="M353.8 352.56V362.64M351.7 352.56h4.2M351.7 362.64h4.2" stroke="#222" stroke-width="0.75" fill="none"/>
<rect x="361.45" y="410.88" width="9.7" height="49.32" fill="#e2e2e2"/>
<path d="M366.3 407.88V413.88M364.2 407.88h4.2M364.2 413.88h4.2" stroke="#222" stroke-width="0.75" fill="none"/>
<rect x="373.85" y="437.04" width="9.7" height="23.16" fill="#a8a8a8"/>
<path d="M378.7 434.86V439.49M376.6 434.86h4.2M376.6 439.49h4.2" stroke="#222" stroke-width="0.75" fill="none"/>
<rect x="386.35" y="439.76" width="9.7" height="20.44" fill="#5a5a5a"/>
<path d="M391.2 438.94V440.58M389.1 438.94h4.2M389.1 440.58h4.2" stroke="#222" stroke-width="0.75" fill="none"/>
<text x="373.7" y="472.64" font-size="7.1" text-anchor="middle" fill="#161616">TC32</text>
<rect x="408.35" y="375.45" width="9.7" height="84.75" fill="#000"/>
<path d="M413.2 369.73V381.18M411.1 369.73h4.2M411.1 381.18h4.2" stroke="#222" stroke-width="0.75" fill="none"/>
<rect x="420.85" y="391.53" width="9.7" height="68.67" fill="#e2e2e2"/>
<path d="M425.7 387.44V395.34M423.6 387.44h4.2M423.6 395.34h4.2" stroke="#222" stroke-width="0.75" fill="none"/>
<rect x="433.25" y="412.78" width="9.7" height="47.41" fill="#a8a8a8"/>
<path d="M438.1 410.33V415.51M436 410.33h4.2M436 415.51h4.2" stroke="#222" stroke-width="0.75" fill="none"/>
<rect x="445.75" y="423.96" width="9.7" height="36.24" fill="#5a5a5a"/>
<path d="M450.6 422.59V425.32M448.5 422.59h4.2M448.5 425.32h4.2" stroke="#222" stroke-width="0.75" fill="none"/>
<text x="430" y="472.64" font-size="7.1" text-anchor="middle" fill="#161616">RDES</text>
<rect x="466.95" y="370" width="9.7" height="90.2" fill="#000"/>
<path d="M471.8 364.28V375.72M469.7 364.28h4.2M469.7 375.72h4.2" stroke="#222" stroke-width="0.75" fill="none"/>
<rect x="479.45" y="378.72" width="9.7" height="81.48" fill="#e2e2e2"/>
<path d="M484.3 374.36V383.35M482.2 374.36h4.2M482.2 383.35h4.2" stroke="#222" stroke-width="0.75" fill="none"/>
<rect x="491.85" y="405.15" width="9.7" height="55.05" fill="#a8a8a8"/>
<path d="M496.7 402.7V407.33M494.6 402.7h4.2M494.6 407.33h4.2" stroke="#222" stroke-width="0.75" fill="none"/>
<rect x="504.35" y="426.68" width="9.7" height="33.52" fill="#5a5a5a"/>
<path d="M509.2 423.69V428.86M507.1 423.69h4.2M507.1 428.86h4.2" stroke="#222" stroke-width="0.75" fill="none"/>
<text x="490" y="472.64" font-size="7.1" text-anchor="middle" fill="#161616">EW8</text>
<text x="390.7" y="338.41" font-size="8.4" text-anchor="middle" fill="#161616">NAD<tspan font-size="5.6" dy="-2.8">+</tspan><tspan dy="2.8">/NADH</tspan></text>
<text x="308" y="422.9" font-size="8" text-anchor="middle" font-weight="bold" fill="#000">****</text>
<text x="320.4" y="434.6" font-size="8" text-anchor="middle" font-weight="bold" fill="#000">****</text>
<text x="332.9" y="438.2" font-size="8" text-anchor="middle" font-weight="bold" fill="#000">****</text>
<text x="366.7" y="407.4" font-size="8" text-anchor="middle" font-weight="bold" fill="#000">****</text>
<text x="379.1" y="433.8" font-size="8" text-anchor="middle" font-weight="bold" fill="#000">****</text>
<text x="392" y="438.2" font-size="8" text-anchor="middle" font-weight="bold" fill="#000">****</text>
<text x="425.6" y="388.3" font-size="8" text-anchor="middle" font-weight="bold" fill="#000">***</text>
<text x="438" y="410.2" font-size="8" text-anchor="middle" font-weight="bold" fill="#000">****</text>
<text x="450.5" y="421.8" font-size="8" text-anchor="middle" font-weight="bold" fill="#000">****</text>
<text x="483.7" y="374.4" font-size="8" text-anchor="middle" font-weight="bold" fill="#000">*</text>
<text x="496.7" y="402.2" font-size="8" text-anchor="middle" font-weight="bold" fill="#000">****</text>
<text x="509.6" y="422.9" font-size="8" text-anchor="middle" font-weight="bold" fill="#000">****</text>
<text x="267.4" y="408.7" font-size="6.7" text-anchor="middle" fill="#161616" transform="rotate(-90 267.4 408.7)">NAD<tspan font-size="4.3" dy="-2.2">+</tspan><tspan dy="2.2">/NADH ratio</tspan></text>
<rect x="312.1" y="480.25" width="3.7" height="3.7" fill="#000"/>
<text x="317.6" y="484.69" font-size="7.2" fill="#161616" textLength="23" lengthAdjust="spacingAndGlyphs">Control</text>
<rect x="349" y="480.4" width="3.4" height="3.4" fill="#e2e2e2"/>
<text x="354.6" y="484.69" font-size="7.2" fill="#161616" textLength="43.1" lengthAdjust="spacingAndGlyphs">46.75 nmol/L</text>
<rect x="405.4" y="480.4" width="3.4" height="3.4" fill="#a8a8a8"/>
<text x="410.6" y="484.69" font-size="7.2" fill="#161616" textLength="39.1" lengthAdjust="spacingAndGlyphs">93.5 nmol/L</text>
<rect x="458.2" y="480.35" width="3.5" height="3.5" fill="#5a5a5a"/>
<text x="464.1" y="484.69" font-size="7.2" fill="#161616" textLength="34.9" lengthAdjust="spacingAndGlyphs">187 nmol/L</text>
<line x1="38.5" y1="610.2" x2="123.8" y2="610.2" stroke="#858585" stroke-width="0.65"/>
<text x="37" y="613.05" font-size="7.9" text-anchor="end" fill="#161616">0</text>
<line x1="38.5" y1="590.16" x2="123.8" y2="590.16" stroke="#858585" stroke-width="0.65"/>
<text x="37" y="593.01" font-size="7.9" text-anchor="end" fill="#161616">30</text>
<line x1="38.5" y1="570.12" x2="123.8" y2="570.12" stroke="#858585" stroke-width="0.65"/>
<text x="37" y="572.97" font-size="7.9" text-anchor="end" fill="#161616">60</text>
<line x1="38.5" y1="550.08" x2="123.8" y2="550.08" stroke="#858585" stroke-width="0.65"/>
<text x="37" y="552.93" font-size="7.9" text-anchor="end" fill="#161616">90</text>
<line x1="38.5" y1="530.04" x2="123.8" y2="530.04" stroke="#858585" stroke-width="0.65"/>
<text x="37" y="532.89" font-size="7.9" text-anchor="end" fill="#161616">120</text>
<line x1="40.5" y1="525" x2="40.5" y2="610.2" stroke="#858585" stroke-width="0.7"/>
<rect x="46.7" y="535.72" width="7.8" height="74.48" fill="#bfbfbf"/>
<path d="M50.6 531.71V539.06M48.9 531.71h3.4M48.9 539.06h3.4" stroke="#222" stroke-width="0.75" fill="none"/>
<rect x="66.8" y="550.41" width="7.8" height="59.79" fill="#bfbfbf"/>
<path d="M70.7 546.07V553.42M69 546.07h3.4M69 553.42h3.4" stroke="#222" stroke-width="0.75" fill="none"/>
<rect x="86.6" y="592.83" width="7.8" height="17.37" fill="#bfbfbf"/>
<path d="M90.5 589.16V595.84M88.8 589.16h3.4M88.8 595.84h3.4" stroke="#222" stroke-width="0.75" fill="none"/>
<rect x="106.3" y="599.85" width="7.8" height="10.35" fill="#bfbfbf"/>
<path d="M110.2 595.5V602.52M108.5 595.5h3.4M108.5 602.52h3.4" stroke="#222" stroke-width="0.75" fill="none"/>
<text x="71.7" y="543.2" font-size="6.8" text-anchor="middle" fill="#111">★</text>
<text x="90.4" y="585" font-size="6.8" text-anchor="middle" fill="#111" textLength="19.8" lengthAdjust="spacingAndGlyphs">★★★★</text>
<text x="110.8" y="591.2" font-size="6.8" text-anchor="middle" fill="#111" textLength="19.8" lengthAdjust="spacingAndGlyphs">★★★★</text>
<text x="84.2" y="507.38" font-size="8.6" text-anchor="middle" fill="#161616">TC71</text>
<text x="84.2" y="517" font-size="8.6" text-anchor="middle" fill="#161616" textLength="39.3" lengthAdjust="spacingAndGlyphs">Glycolysis</text>
<text x="17.4" y="573.7" font-size="8.7" text-anchor="middle" fill="#161616" transform="rotate(-90 17.4 573.7)" textLength="67.5" lengthAdjust="spacingAndGlyphs">ECAR (mpH/min)</text>
<text x="50.5" y="620.88" font-size="7.5" text-anchor="middle" fill="#161616">Veh</text>
<text x="71.2" y="620.88" font-size="7.5" text-anchor="middle" fill="#161616">125</text>
<text x="91" y="620.88" font-size="7.5" text-anchor="middle" fill="#161616">187</text>
<text x="110.8" y="620.88" font-size="7.5" text-anchor="middle" fill="#161616">250</text>
<line x1="163.2" y1="610" x2="246.2" y2="610" stroke="#858585" stroke-width="0.65"/>
<text x="160" y="612.85" font-size="7.9" text-anchor="end" fill="#161616">0</text>
<line x1="163.2" y1="589.81" x2="246.2" y2="589.81" stroke="#858585" stroke-width="0.65"/>
<text x="160" y="592.66" font-size="7.9" text-anchor="end" fill="#161616">40</text>
<line x1="163.2" y1="569.62" x2="246.2" y2="569.62" stroke="#858585" stroke-width="0.65"/>
<text x="160" y="572.47" font-size="7.9" text-anchor="end" fill="#161616">80</text>
<line x1="163.2" y1="549.44" x2="246.2" y2="549.44" stroke="#858585" stroke-width="0.65"/>
<text x="160" y="552.29" font-size="7.9" text-anchor="end" fill="#161616">120</text>
<line x1="163.2" y1="529.25" x2="246.2" y2="529.25" stroke="#858585" stroke-width="0.65"/>
<text x="160" y="532.1" font-size="7.9" text-anchor="end" fill="#161616">160</text>
<line x1="165.2" y1="524.5" x2="165.2" y2="610" stroke="#858585" stroke-width="0.7"/>
<rect x="171.05" y="536.82" width="7.7" height="73.18" fill="#bfbfbf"/>
<path d="M174.9 532.02V540.86M173.2 532.02h3.4M173.2 540.86h3.4" stroke="#222" stroke-width="0.75" fill="none"/>
<rect x="190.45" y="563.82" width="7.7" height="46.18" fill="#bfbfbf"/>
<path d="M194.3 559.53V567.61M192.6 559.53h3.4M192.6 567.61h3.4" stroke="#222" stroke-width="0.75" fill="none"/>
<text x="194.2" y="556.2" font-size="6.8" text-anchor="middle" fill="#111" textLength="14.85" lengthAdjust="spacingAndGlyphs">★★★</text>
<text x="216.2" y="609.8" font-size="6.8" text-anchor="middle" fill="#111" textLength="19.8" lengthAdjust="spacingAndGlyphs">★★★★</text>
<text x="239.5" y="609.8" font-size="6.8" text-anchor="middle" fill="#111" textLength="19.8" lengthAdjust="spacingAndGlyphs">★★★★</text>
<text x="199.6" y="507.38" font-size="8.6" text-anchor="middle" fill="#161616">TC71</text>
<text x="201.2" y="518" font-size="8.6" text-anchor="middle" fill="#161616" textLength="73.5" lengthAdjust="spacingAndGlyphs">Glycolytic capacity</text>
<text x="143.6" y="575.5" font-size="8.7" text-anchor="middle" fill="#161616" transform="rotate(-90 143.6 575.5)" textLength="65" lengthAdjust="spacingAndGlyphs">ECAR (mpH/min)</text>
<text x="176.2" y="620.88" font-size="7.5" text-anchor="middle" fill="#161616">Veh</text>
<text x="195.5" y="620.88" font-size="7.5" text-anchor="middle" fill="#161616">125</text>
<text x="216.2" y="620.88" font-size="7.5" text-anchor="middle" fill="#161616">187</text>
<text x="235" y="620.88" font-size="7.5" text-anchor="middle" fill="#161616">250</text>
<line x1="286" y1="608.5" x2="368.8" y2="608.5" stroke="#858585" stroke-width="0.65"/>
<text x="283.7" y="611.35" font-size="7.9" text-anchor="end" fill="#161616">0</text>
<line x1="286" y1="580.67" x2="368.8" y2="580.67" stroke="#858585" stroke-width="0.65"/>
<text x="283.7" y="583.52" font-size="7.9" text-anchor="end" fill="#161616">30</text>
<line x1="286" y1="552.83" x2="368.8" y2="552.83" stroke="#858585" stroke-width="0.65"/>
<text x="283.7" y="555.68" font-size="7.9" text-anchor="end" fill="#161616">60</text>
<line x1="286" y1="525" x2="368.8" y2="525" stroke="#858585" stroke-width="0.65"/>
<text x="283.7" y="527.85" font-size="7.9" text-anchor="end" fill="#161616">90</text>
<line x1="288" y1="524.5" x2="288" y2="608.5" stroke="#858585" stroke-width="0.7"/>
<rect x="294.1" y="539.29" width="7.8" height="69.21" fill="#bfbfbf"/>
<path d="M298 533.72V543.93M296.3 533.72h3.4M296.3 543.93h3.4" stroke="#222" stroke-width="0.75" fill="none"/>
<rect x="314.2" y="559.98" width="7.8" height="48.52" fill="#bfbfbf"/>
<path d="M318.1 549.49V570M316.4 549.49h3.4M316.4 570h3.4" stroke="#222" stroke-width="0.75" fill="none"/>
<rect x="334.1" y="580.48" width="7.8" height="28.02" fill="#bfbfbf"/>
<path d="M338 572.5V588.74M336.3 572.5h3.4M336.3 588.74h3.4" stroke="#222" stroke-width="0.75" fill="none"/>
<rect x="353.8" y="580.67" width="7.8" height="27.83" fill="#bfbfbf"/>
<path d="M357.7 576.21V584.47M356 576.21h3.4M356 584.47h3.4" stroke="#222" stroke-width="0.75" fill="none"/>
<text x="318.2" y="546.2" font-size="6.8" text-anchor="middle" fill="#111">★</text>
<text x="337.5" y="570" font-size="6.8" text-anchor="middle" fill="#111" textLength="19.8" lengthAdjust="spacingAndGlyphs">★★★★</text>
<text x="358.7" y="574.5" font-size="6.8" text-anchor="middle" fill="#111" textLength="19.8" lengthAdjust="spacingAndGlyphs">★★★★</text>
<text x="328.2" y="504.38" font-size="8.6" text-anchor="middle" fill="#161616">TC32</text>
<text x="328.6" y="515" font-size="8.6" text-anchor="middle" fill="#161616" textLength="38.8" lengthAdjust="spacingAndGlyphs">Glycolysis</text>
<text x="265.6" y="577.2" font-size="8.7" text-anchor="middle" fill="#161616" transform="rotate(-90 265.6 577.2)" textLength="68" lengthAdjust="spacingAndGlyphs">ECAR (mpH/min)</text>
<text x="298.2" y="619.68" font-size="7.5" text-anchor="middle" fill="#161616">Veh</text>
<text x="318.2" y="619.68" font-size="7.5" text-anchor="middle" fill="#161616">125</text>
<text x="337.5" y="619.68" font-size="7.5" text-anchor="middle" fill="#161616">187</text>
<text x="359.2" y="619.68" font-size="7.5" text-anchor="middle" fill="#161616">250</text>
<line x1="414.5" y1="609.5" x2="503.8" y2="609.5" stroke="#858585" stroke-width="0.65"/>
<text x="410.7" y="612.35" font-size="7.9" text-anchor="end" fill="#161616">0</text>
<line x1="414.5" y1="590.06" x2="503.8" y2="590.06" stroke="#858585" stroke-width="0.65"/>
<text x="410.7" y="592.91" font-size="7.9" text-anchor="end" fill="#161616">30</text>
<line x1="414.5" y1="570.62" x2="503.8" y2="570.62" stroke="#858585" stroke-width="0.65"/>
<text x="410.7" y="573.47" font-size="7.9" text-anchor="end" fill="#161616">60</text>
<line x1="414.5" y1="551.18" x2="503.8" y2="551.18" stroke="#858585" stroke-width="0.65"/>
<text x="410.7" y="554.03" font-size="7.9" text-anchor="end" fill="#161616">90</text>
<line x1="414.5" y1="531.74" x2="503.8" y2="531.74" stroke="#858585" stroke-width="0.65"/>
<text x="410.7" y="534.59" font-size="7.9" text-anchor="end" fill="#161616">120</text>
<line x1="416.5" y1="525" x2="416.5" y2="609.5" stroke="#858585" stroke-width="0.7"/>
<rect x="423.2" y="540.16" width="8.4" height="69.34" fill="#bfbfbf"/>
<path d="M427.4 532V546.26M425.7 532h3.4M425.7 546.26h3.4" stroke="#222" stroke-width="0.75" fill="none"/>
<rect x="445" y="569.32" width="8.4" height="40.18" fill="#bfbfbf"/>
<path d="M449.2 557.66V580.02M447.5 557.66h3.4M447.5 580.02h3.4" stroke="#222" stroke-width="0.75" fill="none"/>
<rect x="467" y="601.72" width="8.4" height="7.78" fill="#bfbfbf"/>
<path d="M471.2 596.99V604.25M469.5 596.99h3.4M469.5 604.25h3.4" stroke="#222" stroke-width="0.75" fill="none"/>
<rect x="488.5" y="604.25" width="8.4" height="5.25" fill="#bfbfbf"/>
<path d="M492.7 601.27V606.97M491 601.27h3.4M491 606.97h3.4" stroke="#222" stroke-width="0.75" fill="none"/>
<text x="449.5" y="555.5" font-size="6.8" text-anchor="middle" fill="#111">★</text>
<text x="470.7" y="595.5" font-size="6.8" text-anchor="middle" fill="#111" textLength="19.8" lengthAdjust="spacingAndGlyphs">★★★★</text>
<text x="492.4" y="598.7" font-size="6.8" text-anchor="middle" fill="#111" textLength="19.8" lengthAdjust="spacingAndGlyphs">★★★★</text>
<text x="459.2" y="508.08" font-size="8.6" text-anchor="middle" fill="#161616">TC32</text>
<text x="458.2" y="518.5" font-size="8.6" text-anchor="middle" fill="#161616" textLength="72.5" lengthAdjust="spacingAndGlyphs">Glycolytic capacity</text>
<text x="391.4" y="577" font-size="8.7" text-anchor="middle" fill="#161616" transform="rotate(-90 391.4 577)" textLength="66" lengthAdjust="spacingAndGlyphs">ECAR (mpH/min)</text>
<text x="426.7" y="620.68" font-size="7.5" text-anchor="middle" fill="#161616">Veh</text>
<text x="449.2" y="620.68" font-size="7.5" text-anchor="middle" fill="#161616">125</text>
<text x="470.7" y="620.68" font-size="7.5" text-anchor="middle" fill="#161616">187</text>
<text x="493" y="620.68" font-size="7.5" text-anchor="middle" fill="#161616">250</text>
</svg>
</body></html>
